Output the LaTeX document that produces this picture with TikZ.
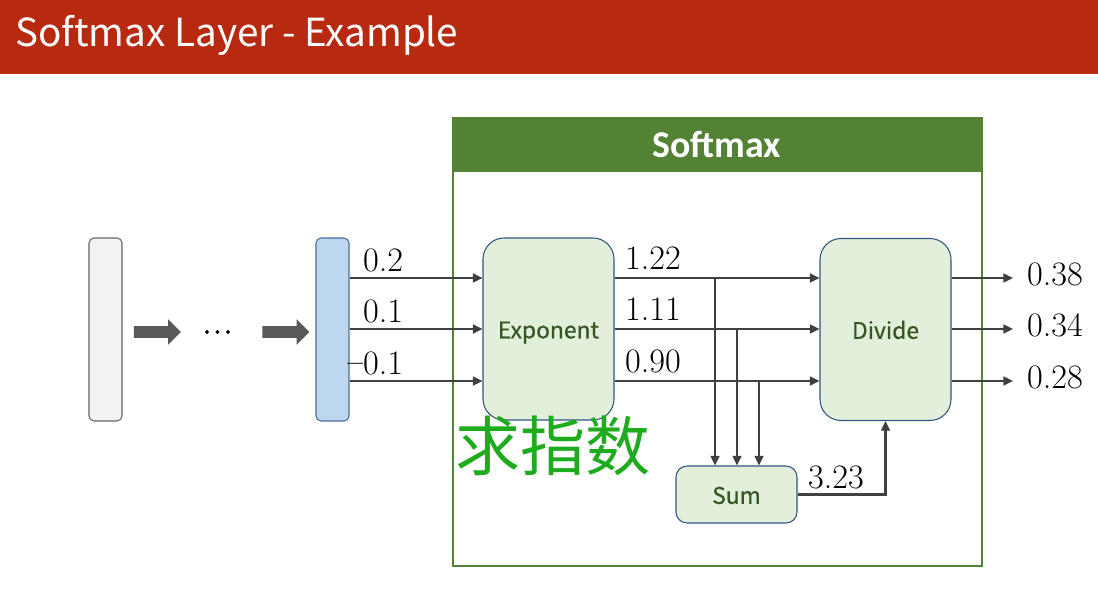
\documentclass[tikz,border=0pt]{standalone}
\usepackage{fontspec}
\newfontfamily\cjk{Noto Sans CJK SC}
\newfontfamily\cjkbox[FakeBold=0.6]{Noto Sans CJK SC}
\newfontfamily\carlito{Carlito}
\usetikzlibrary{arrows.meta, shapes, positioning}
\definecolor{titlered}{RGB}{183,42,16}
\definecolor{smgreen}{RGB}{84,130,53}
\definecolor{boxfill}{RGB}{226,239,218}
\definecolor{boxline}{RGB}{47,85,130}
\definecolor{boxtext}{RGB}{55,86,35}
\definecolor{layerblue}{RGB}{189,215,238}
\definecolor{layerline}{RGB}{65,113,156}
\definecolor{wirecol}{RGB}{64,64,64}
\definecolor{fatcol}{RGB}{89,89,89}
\definecolor{cngreen}{RGB}{30,172,30}
\newcommand\negsign{\llap{\raisebox{1.5pt}{\bfseries\fontsize{16}{18}\selectfont--}}}

\begin{document}
\begin{tikzpicture}[x=0.02cm, y=-0.02cm,
    wire/.style={draw=wirecol, line width=1.2pt},
    arr/.style={wire, -{Triangle[length=5.5pt,width=5pt]}},
    op/.style={draw=boxline, fill=boxfill, line width=0.6pt, rounded corners=0.42cm,
        text=boxtext, font=\cjkbox\fontsize{13}{15}\selectfont,
        text height=11pt, text depth=0.4pt,
        minimum width=2.62cm, minimum height=3.64cm, inner sep=0pt},
    layer/.style={rounded corners=0.1cm, line width=0.6pt,
        minimum width=0.66cm, minimum height=3.66cm, inner sep=0pt},
    fat/.style={single arrow, fill=fatcol, inner xsep=0pt, inner ysep=0.11cm,
        minimum height=0.94cm, single arrow head extend=0.14cm,
        single arrow head indent=0pt},
    num/.style={font=\fontsize{19.5}{21}\selectfont, inner sep=1pt}
  ]
  \useasboundingbox (0,0) rectangle (1098,591);
  \node[fill=titlered, minimum width=21.96cm, minimum height=1.48cm, inner sep=0pt,
      anchor=north west] (bar) at (0,0) {};
  \node[anchor=west, text=white, font=\cjk\fontsize{22}{24}\selectfont] (title) at (9,35)
      {Softmax Layer - Example};

  \node[draw=smgreen, line width=1.2pt, minimum width=10.58cm, minimum height=8.96cm,
      inner sep=0pt, anchor=north west] (frame) at (452,117) {};
  \node[fill=smgreen, minimum width=10.58cm, minimum height=1.1cm, inner sep=0pt,
      anchor=north west, text=white, font=\carlito\bfseries\fontsize{21.5}{23}\selectfont]
      (head) at (452,117) {Softmax};

  \node[layer, draw=gray!80!black, fill=gray!10] (first) at (105.5,329.5) {};
  \node[fat] (step1) at (154.5,332) {};
  \node[font=\cjkbox\fontsize{16}{18}\selectfont, inner sep=0pt] (dots) at (217,332) {…};
  \node[fat] (step2) at (283,332) {};
  \node[layer, draw=layerline, fill=layerblue] (last) at (332.5,329.5) {};

  \node[op] (expo) at (548.5,329) {Exponent};
  \node[op] (div) at (885.5,329.5) {Divide};
  \node[op, rounded corners=0.22cm, minimum width=2.42cm, minimum height=1.14cm]
      (sum) at (736.5,494.5) {Sum};

  \foreach \y/\a/\b/\c/\t [count=\i] in {278/0.2/1.22/0.38/715,
      329/0.1/1.11/0.34/737, 381/\negsign0.1/0.90/0.28/759}{
    \draw[arr] (last.east |- 0,\y) -- (expo.west |- 0,\y);
    \node[num, anchor=south west] (x\i) at (361,\y-4) {\a};
    \draw[arr] (expo.east |- 0,\y) -- (div.west |- 0,\y);
    \node[num, anchor=south west] (e\i) at (623,\y-6) {\b};
    \draw[arr] (\t,\y) -- (sum.north -| \t,0);
    \draw[arr] (div.east |- 0,\y) -- (1013,\y);
    \node[num, anchor=west] (y\i) at (1025,\y-4) {\c};
  }
  \draw[arr] (sum.east) -| (div.south);
  \node[num, anchor=south west] (total) at (806,491) {3.23};

  \node[text=cngreen, font=\cjk\fontsize{37}{39}\selectfont, anchor=west, inner sep=0pt]
      (zh) at (455,446) {求指数};
\end{tikzpicture}
\end{document}
